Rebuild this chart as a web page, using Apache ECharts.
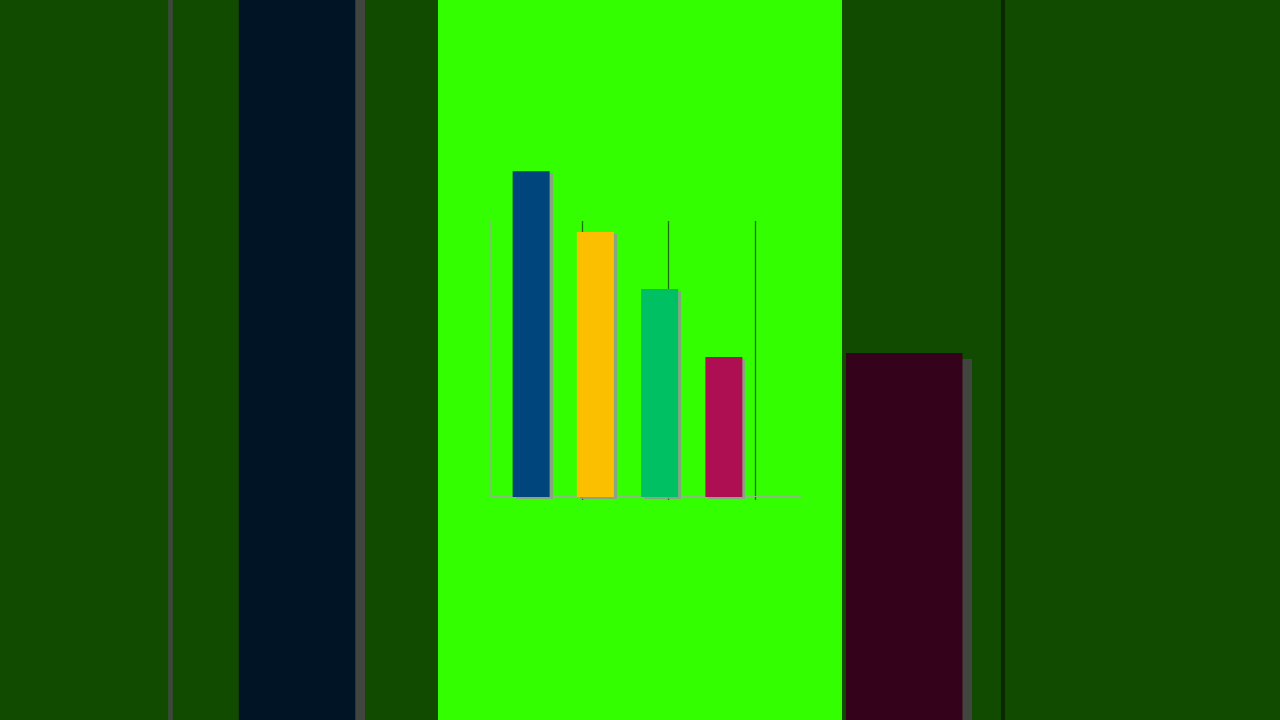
<!DOCTYPE html>
<html>
<head>
<meta charset="utf-8">
<script src="https://cdn.jsdelivr.net/npm/echarts@6/dist/echarts.min.js"></script>
<style>
html,body{margin:0;padding:0;width:1280px;height:720px;overflow:hidden;background:#114b00;}
#bg,#fg{position:absolute;left:0;top:0;width:1280px;height:720px;}
</style>
</head>
<body>
<div id="bg"></div>
<div id="fg"></div>
<script>
// ---- data ----
const categories = ['A', 'B', 'C', 'D'];
const values = [118, 96, 75.4, 50.7];
const barColors = ['#00457c', '#fbbf00', '#00c064', '#ad0f52'];
const bgBarColors = ['#001426', '#463600', '#00381c', '#35021c'];
const guideTicks = [1, 2, 3];
const guideMax = 3.52;   // vertical guide lines axis
const valueMax = 100;

function buildOption(o) {
  const s = o.scale, cx = 640, cy = 359;
  const X = v => cx + s * (v - cx);
  const Y = v => cy + s * (v - cy);
  const catLeft = X(499), catW = 257 * s;
  const top = Y(221), h = 276 * s;
  const axLeft = X(491), axW = 309 * s;
  const gLeft = X(495.5), gW = 304.5 * s;
  const g = (l, w) => ({left: l, top: top, width: w, height: h, outerBoundsMode: 'none', containLabel: false});
  return {
    animation: false,
    backgroundColor: 'transparent',
    graphic: o.graphic || [],
    grid: [g(catLeft, catW), g(axLeft, axW), g(gLeft, gW)],
    xAxis: [
      {type: 'category', gridIndex: 0, data: categories, axisLine: {show: false},
       axisTick: {show: false}, axisLabel: {show: false}, splitLine: {show: false}},
      {type: 'value', gridIndex: 1, min: 0, max: 1, axisLabel: {show: false},
       axisTick: {show: false}, splitLine: {show: false},
       axisLine: {show: true, lineStyle: {color: o.axisColor, width: 2 * s}}},
      {type: 'value', gridIndex: 2, min: 0, max: guideMax, interval: 1,
       axisLabel: {show: false}, axisLine: {show: false},
       axisTick: {show: true, inside: false, customValues: guideTicks, length: 3 * s,
                  lineStyle: {color: o.guideColor, width: 1.3 * s}},
       splitLine: {show: true, lineStyle: {color: o.guideColor, width: 1.3 * s}}}
    ],
    yAxis: [
      {type: 'value', gridIndex: 0, min: 0, max: valueMax, show: false},
      {type: 'value', gridIndex: 1, min: 0, max: 1, axisLabel: {show: false},
       axisTick: {show: false}, splitLine: {show: false},
       axisLine: {show: true, lineStyle: {color: o.axisColor, width: 1.5 * s}}},
      {type: 'value', gridIndex: 2, min: 0, max: 1, show: false}
    ],
    series: [{
      type: 'bar',
      xAxisIndex: 0, yAxisIndex: 0,
      clip: false,
      barWidth: 37 * s,
      z: 5,
      data: values.map((v, i) => ({
        value: v,
        itemStyle: {
          color: o.colors[i],
          shadowColor: o.shadowColor,
          shadowOffsetX: 3 * s,
          shadowOffsetY: 2 * s,
          shadowBlur: 0.5
        }
      }))
    }]
  };
}

const bg = echarts.init(document.getElementById('bg'), null, {renderer: 'canvas'});
bg.setOption(buildOption({
  scale: 3.15,
  colors: bgBarColors,
  shadowColor: 'rgba(70,70,70,0.9)',
  axisColor: '#3b4a38',
  guideColor: '#072a00',
  graphic: [{
    type: 'rect', z: 100, silent: true,
    shape: {x: 438, y: 0, width: 404, height: 720},
    style: {fill: '#33ff00'}
  }]
}));

const fg = echarts.init(document.getElementById('fg'), null, {renderer: 'canvas'});
fg.setOption(buildOption({
  scale: 1,
  colors: barColors,
  shadowColor: 'rgba(150,150,150,0.85)',
  axisColor: '#8db884',
  guideColor: '#1c6f12'
}));
</script>
</body>
</html>
